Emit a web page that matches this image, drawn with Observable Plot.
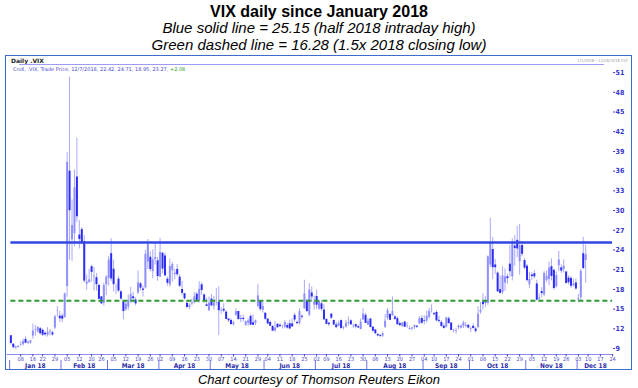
<!DOCTYPE html>
<html><head><meta charset="utf-8">
<script src="https://cdn.jsdelivr.net/npm/d3@7"></script>
<script src="https://cdn.jsdelivr.net/npm/@observablehq/plot@0.6"></script>
<style>
body{margin:0;background:#fff;}
#page{position:relative;width:638px;height:388px;overflow:hidden;background:#fff;}
.t{position:absolute;left:0;width:638px;text-align:center;white-space:nowrap;color:#000;font-family:"Liberation Sans Narrow","Arial Narrow","Liberation Sans",Arial,sans-serif;}
#title{top:4px;font-size:16px;line-height:16px;font-weight:bold;}
#sub1{top:20px;font-size:15px;line-height:16px;font-style:italic;}
#sub2{top:37px;font-size:15px;line-height:16px;font-style:italic;}
#caption{top:373px;font-family:"Liberation Sans",Arial,sans-serif;font-size:13px;line-height:14px;font-style:italic;}
#chart{position:absolute;left:0;top:56px;}
#box{position:absolute;left:5px;top:55px;width:627px;height:315px;box-sizing:border-box;border:1.6px solid #3c6dcc;pointer-events:none;}
.hd{position:absolute;white-space:nowrap;font-family:"DejaVu Sans",sans-serif;}
#hline{position:absolute;left:19px;top:64px;width:585px;height:1.2px;background:#9c9cf2;}
</style></head>
<body><div id="page">
<div class="t" id="title">VIX daily since January 2018</div>
<div class="t" id="sub1">Blue solid line = 25.15 (half 2018 intraday high)</div>
<div class="t" id="sub2">Green dashed line = 16.28 (1.5x 2018 closing low)</div>
<div id="chart"></div>
<div class="hd" style="left:11px;top:57px;font-size:6px;font-weight:bold;color:#222;">Daily .VIX</div>
<div id="hline"></div>
<div class="hd" style="left:13px;top:65.5px;font-size:5px;color:#4a4acc;">Cndl, .VIX, Trade Price, 12/7/2018, 22.42, 24.71, 18.95, 23.27, <span style="color:#2a9a2a">+2.08</span></div>
<div class="hd" style="right:10px;top:57.5px;font-size:4.2px;color:#a0a0a0;font-family:'DejaVu Sans Condensed','DejaVu Sans',sans-serif;">1/1/2018 - 12/26/2018 EST</div>
<div id="box"></div>
<div class="t" id="caption">Chart courtesy of Thomson Reuters Eikon</div>
</div>
<script>
// trading days (MM-DD, 2018)
const dates = [
"01-02","01-03","01-04","01-05","01-08","01-09","01-10","01-11","01-12","01-16","01-17","01-18","01-19","01-22","01-23","01-24","01-25","01-26","01-29","01-30","01-31",
"02-01","02-02","02-05","02-06","02-07","02-08","02-09","02-12","02-13","02-14","02-15","02-16","02-20","02-21","02-22","02-23","02-26","02-27","02-28",
"03-01","03-02","03-05","03-06","03-07","03-08","03-09","03-12","03-13","03-14","03-15","03-16","03-19","03-20","03-21","03-22","03-23","03-26","03-27","03-28","03-29",
"04-02","04-03","04-04","04-05","04-06","04-09","04-10","04-11","04-12","04-13","04-16","04-17","04-18","04-19","04-20","04-23","04-24","04-25","04-26","04-27","04-30",
"05-01","05-02","05-03","05-04","05-07","05-08","05-09","05-10","05-11","05-14","05-15","05-16","05-17","05-18","05-21","05-22","05-23","05-24","05-25","05-29","05-30","05-31",
"06-01","06-04","06-05","06-06","06-07","06-08","06-11","06-12","06-13","06-14","06-15","06-18","06-19","06-20","06-21","06-22","06-25","06-26","06-27","06-28","06-29",
"07-02","07-03","07-05","07-06","07-09","07-10","07-11","07-12","07-13","07-16","07-17","07-18","07-19","07-20","07-23","07-24","07-25","07-26","07-27","07-30","07-31",
"08-01","08-02","08-03","08-06","08-07","08-08","08-09","08-10","08-13","08-14","08-15","08-16","08-17","08-20","08-21","08-22","08-23","08-24","08-27","08-28","08-29","08-30","08-31",
"09-04","09-05","09-06","09-07","09-10","09-11","09-12","09-13","09-14","09-17","09-18","09-19","09-20","09-21","09-24","09-25","09-26","09-27","09-28",
"10-01","10-02","10-03","10-04","10-05","10-08","10-09","10-10","10-11","10-12","10-15","10-16","10-17","10-18","10-19","10-22","10-23","10-24","10-25","10-26","10-29","10-30","10-31",
"11-01","11-02","11-05","11-06","11-07","11-08","11-09","11-12","11-13","11-14","11-15","11-16","11-19","11-20","11-21","11-23","11-26","11-27","11-28","11-29","11-30",
"12-03","12-04","12-06","12-07"
];
// empty future sessions shown on the axis
const futureDates = ["12-10","12-11","12-12","12-13","12-14","12-17","12-18","12-19","12-20","12-21","12-24"];

const open = [
10.95,9.67,9.05,9.30,9.55,9.60,10.38,9.96,9.83,10.90,11.82,11.52,12.03,11.79,11.33,11.04,11.46,11.40,12.12,14.75,13.93,
13.94,13.73,18.44,36.00,25.55,26.50,35.10,26.27,27.11,25.22,18.80,19.08,21.46,19.93,19.79,18.61,16.87,15.90,18.69,
19.69,23.44,21.07,18.37,19.56,17.63,16.05,14.88,15.30,16.14,16.88,16.38,17.43,18.86,18.06,18.24,22.17,22.89,20.72,22.54,22.36,
19.86,23.51,23.09,19.56,18.68,20.84,20.26,21.05,19.87,17.99,17.36,15.89,15.27,15.79,15.99,17.27,16.27,18.71,17.17,15.66,14.76,
16.53,15.43,15.92,16.05,14.66,14.98,14.54,13.48,13.28,12.62,14.07,14.64,13.53,13.61,12.57,12.85,13.90,12.92,12.83,15.42,16.19,14.83,
14.39,13.48,12.98,12.35,11.69,12.70,12.54,12.35,12.25,12.51,12.78,12.76,14.05,12.99,12.79,13.92,15.05,16.28,14.10,17.46,15.62,
16.92,15.02,15.82,14.87,13.43,12.87,14.24,13.28,12.60,12.39,13.26,12.12,12.27,12.90,13.22,12.33,12.64,12.33,11.91,13.35,14.06,
12.58,13.51,12.27,11.84,11.15,10.98,10.91,12.23,13.63,14.20,14.02,13.81,13.55,12.82,12.38,13.04,12.43,12.06,11.99,12.18,12.41,12.75,13.58,
13.27,13.20,13.73,14.81,14.32,14.50,13.29,12.98,12.41,12.24,13.54,12.89,11.72,11.73,12.30,12.12,12.40,12.47,12.55,
11.90,12.39,11.98,12.22,14.53,16.07,16.13,15.87,21.73,24.07,21.72,20.49,17.96,17.51,18.97,19.93,21.85,19.94,24.61,25.47,22.20,24.68,22.39,
21.54,18.71,20.20,20.39,18.84,16.56,17.68,17.16,19.39,19.53,21.46,20.90,18.42,21.60,21.28,21.06,20.66,19.73,19.68,18.56,18.99,
16.52,16.72,23.44,22.42
];
const high = [
11.01,9.74,9.38,9.48,10.04,10.46,10.79,10.13,10.22,12.74,12.49,12.36,12.24,11.98,11.56,12.20,11.90,11.65,14.06,15.39,14.66,
14.29,17.46,38.80,50.30,31.64,36.17,41.06,28.47,27.37,26.17,20.22,21.04,21.67,21.33,20.40,18.78,16.93,18.94,20.12,
22.99,25.72,22.46,18.77,19.93,17.81,16.31,16.08,17.17,18.33,17.55,16.72,20.79,19.05,18.52,23.96,25.60,23.66,24.03,24.94,22.86,
25.76,23.61,23.48,19.88,22.61,22.11,21.03,21.79,20.23,19.24,17.36,16.28,15.83,16.54,17.55,17.54,19.18,19.04,17.32,16.66,16.85,
17.24,16.91,18.12,18.45,15.22,15.84,14.75,13.62,13.52,13.17,15.08,14.65,14.06,14.06,13.21,13.52,14.12,14.13,13.34,18.78,16.30,16.21,
14.40,13.54,13.18,12.52,13.11,12.78,12.78,12.55,13.30,12.84,13.33,13.48,14.36,13.17,15.09,14.13,19.40,16.53,18.90,18.38,16.99,
17.90,16.19,16.29,15.69,13.53,12.99,14.34,13.31,12.99,13.15,13.36,12.38,13.28,13.82,13.39,12.73,12.75,12.58,13.49,15.05,14.36,
13.56,13.52,12.32,11.93,11.27,11.15,11.51,14.18,15.12,14.32,16.86,14.09,13.86,13.05,12.95,13.11,12.93,12.32,12.16,12.62,12.54,13.86,14.00,
14.00,14.72,15.13,15.65,14.50,14.74,13.92,13.25,12.73,13.75,13.82,12.91,11.94,12.11,12.62,12.63,13.18,12.96,12.65,
12.26,12.75,12.22,15.37,16.00,17.36,16.91,23.10,28.84,25.93,22.58,20.66,20.06,21.47,21.14,20.32,24.67,25.71,26.22,27.59,27.87,25.27,22.72,
21.80,20.63,20.51,20.85,19.41,17.31,18.27,20.72,20.80,22.20,22.66,21.10,20.65,23.81,21.74,22.53,20.66,20.07,19.97,19.52,19.61,
17.23,21.04,25.94,24.71
];
const low = [
9.52,8.95,8.92,9.14,9.37,9.37,9.81,9.58,9.66,10.42,10.88,11.37,11.05,10.85,10.79,10.75,10.91,10.90,11.88,13.80,12.99,
12.93,13.62,16.80,22.42,22.26,24.49,28.21,24.16,24.82,18.99,17.88,18.87,19.13,17.75,17.73,16.43,15.74,15.49,17.06,
18.50,19.19,17.60,17.25,17.51,16.33,13.40,14.68,14.85,15.83,15.98,15.48,17.25,17.76,16.85,18.04,21.03,20.66,19.66,21.71,19.24,
19.86,20.36,19.98,18.47,18.34,19.10,19.52,19.96,18.30,17.05,16.38,15.06,14.90,15.50,15.77,16.15,15.94,17.09,15.85,15.40,14.66,
15.44,14.88,15.53,10.95,14.21,14.44,13.41,12.96,12.61,12.40,13.90,13.31,12.93,13.02,12.35,12.35,12.48,12.55,12.47,15.21,14.66,14.38,
13.28,12.68,12.40,11.64,11.49,12.09,12.20,11.98,12.00,11.96,11.92,12.21,13.01,12.67,12.60,13.37,14.99,14.49,13.84,16.08,14.85,
14.98,14.83,14.63,13.33,12.65,12.37,13.42,12.52,12.09,12.32,11.90,11.82,12.10,12.42,12.54,12.06,11.99,12.06,11.84,13.25,12.83,
12.50,12.19,11.52,11.10,10.80,10.64,10.70,12.05,13.31,13.23,13.88,13.28,12.55,12.38,12.21,12.20,12.08,11.84,11.68,11.89,12.05,12.68,12.69,
12.62,12.88,13.51,14.40,13.97,13.06,12.86,12.20,11.95,12.13,12.76,11.75,11.38,11.19,11.86,11.96,12.05,12.15,11.98,
11.41,11.97,11.34,12.04,14.21,14.86,15.22,15.57,21.32,19.49,20.29,17.61,17.24,17.22,17.72,18.74,19.85,19.30,21.53,22.83,20.19,22.99,21.02,
19.13,18.11,19.39,19.60,16.28,16.09,16.71,16.93,19.05,18.58,19.30,17.88,18.21,20.71,20.44,20.51,18.82,18.68,18.14,18.37,17.88,
15.95,16.37,20.99,18.95
];
const close = [
9.77,9.15,9.22,9.22,9.52,10.08,9.82,9.88,10.16,11.66,11.91,12.22,11.27,11.03,11.10,11.47,11.58,11.08,13.84,14.79,13.54,
13.47,17.31,37.32,29.98,27.73,33.46,29.06,25.61,24.97,19.26,19.13,19.46,20.60,20.02,18.72,16.49,15.80,18.59,19.85,
22.47,19.59,18.73,18.36,17.76,16.54,14.64,15.78,16.35,17.23,16.59,15.80,19.02,18.20,17.86,23.34,24.87,21.03,22.50,22.87,19.97,
23.62,21.10,20.06,18.94,21.49,21.77,20.47,20.24,18.49,17.41,16.56,15.25,15.60,15.96,16.88,16.34,18.02,17.84,16.24,15.41,15.93,
15.49,15.97,15.90,14.77,14.75,14.71,13.42,13.23,12.65,12.93,14.63,13.42,13.43,13.42,13.08,13.22,12.58,12.53,13.22,17.02,14.94,15.43,
13.46,12.74,12.40,11.64,12.13,12.18,12.35,12.34,12.94,12.12,11.98,12.31,13.35,12.79,14.64,13.77,17.33,14.64,17.91,16.85,16.09,
15.60,16.14,14.97,13.37,12.69,12.64,13.63,12.58,12.18,12.83,12.06,12.10,12.87,12.86,12.62,12.41,12.29,12.14,13.03,14.26,12.83,
13.15,12.19,11.64,11.27,10.93,10.85,11.27,13.16,14.78,13.31,14.64,13.45,12.64,12.49,12.86,12.25,12.41,11.99,12.16,12.50,12.25,13.53,12.86,
13.16,13.91,14.65,14.88,14.16,13.22,13.14,12.37,12.07,13.68,12.79,11.75,11.80,11.68,12.20,12.42,12.89,12.41,12.12,
12.00,12.05,11.61,14.22,14.82,15.69,15.95,22.96,24.98,21.31,21.30,17.62,17.40,20.06,19.89,19.64,20.71,25.23,24.22,24.16,24.70,23.35,21.23,
19.34,19.51,19.96,19.91,16.36,16.72,17.36,20.45,20.02,21.25,19.98,18.14,20.10,22.48,20.80,21.52,18.90,19.02,18.49,18.79,18.07,
16.44,20.74,21.19,23.27
];

const blueLevel = 25.15;   // half 2018 intraday high
const greenLevel = 16.28;  // 1.5x 2018 closing low
const yTicks = [9,12,15,18,21,24,27,30,33,36,39,42,45,48,51];
const tickDays = ["01-08","01-16","01-22","01-29","02-05","02-12","02-20","02-26","03-05","03-12","03-19","03-26",
"04-02","04-09","04-16","04-23","04-30","05-07","05-14","05-21","05-29","06-04","06-11","06-18","06-25",
"07-02","07-09","07-16","07-23","07-30","08-06","08-13","08-20","08-27","09-04","09-10","09-17","09-24",
"10-01","10-08","10-15","10-22","10-29","11-05","11-12","11-19","11-26","12-03","12-10","12-17","12-24"];
const months = ["Jan 18","Feb 18","Mar 18","Apr 18","May 18","Jun 18","Jul 18","Aug 18","Sep 18","Oct 18","Nov 18","Dec 18"];

const rows = dates.map((d, i) => ({date: d, i, open: open[i], high: high[i], low: low[i], close: close[i]}));
const allDays = dates.concat(futureDates);
const idx = d => allDays.indexOf(d);
const monthOf = d => +d.slice(0, 2) - 1;
const monthStart = months.map((m, k) => allDays.findIndex(d => monthOf(d) === k));
const monthEnd = months.map((m, k) => { let last = -1; allDays.forEach((d, j) => { if (monthOf(d) === k) last = j; }); return last; });
const monthCenters = months.map((m, k) => (monthStart[k] + monthEnd[k]) / 2);
const boundaries = monthStart.map(s => s - 0.5);
const lastIdx = allDays.length - 1;

const chart = Plot.plot({
  width: 638, height: 314,
  marginLeft: 6.7, marginRight: 25.9, marginTop: 3.6, marginBottom: 16,
  x: {type: "linear", domain: [-1.5, 246]},
  y: {domain: [8.1, 52.9]},
  style: {fontFamily: "'DejaVu Sans Condensed', 'DejaVu Sans', sans-serif", background: "transparent", overflow: "visible"},
  marks: [
    Plot.ruleX(rows, {x: "i", y1: "low", y2: "high", stroke: "#a9a9ff", strokeWidth: 1}),
    Plot.ruleX(rows, {filter: d => d.close >= d.open, x: "i", y1: "open", y2: "close", stroke: "#8f8fff", strokeWidth: 2}),
    Plot.ruleX(rows, {filter: d => d.close < d.open, x: "i", y1: "open", y2: "close", stroke: "#2c2cf5", strokeWidth: 2}),
    Plot.ruleY([blueLevel], {x1: 0, x2: lastIdx, stroke: "#3246e0", strokeWidth: 2.5}),
    Plot.ruleY([greenLevel], {x1: 0, x2: lastIdx, stroke: "#2f9a2f", strokeWidth: 2, strokeDasharray: "5,3"}),
    Plot.frame({anchor: "bottom", stroke: "#8a8aef"}),
    Plot.axisY({anchor: "right", ticks: yTicks, tickSize: 2, tickPadding: 1, fontSize: 7, fontWeight: "bold", color: "#3434cc", label: null}),
    Plot.axisX({ticks: tickDays.map(idx), tickFormat: i => allDays[i].slice(3), tickSize: 2.5, tickPadding: 0.5, fontSize: 5.5, color: "#4646c6", label: null}),
    Plot.axisX({ticks: monthCenters, tickFormat: v => months[monthCenters.indexOf(v)], tickSize: 0, tickPadding: 8.5, fontSize: 6.5, fontWeight: "bold", color: "#2a2aa6", label: null}),
    Plot.axisX({ticks: boundaries, tickFormat: () => "", tickSize: 9, dy: 6, color: "#7272e0", label: null})
  ]
});
document.getElementById("chart").appendChild(chart);
</script>
</body></html>
